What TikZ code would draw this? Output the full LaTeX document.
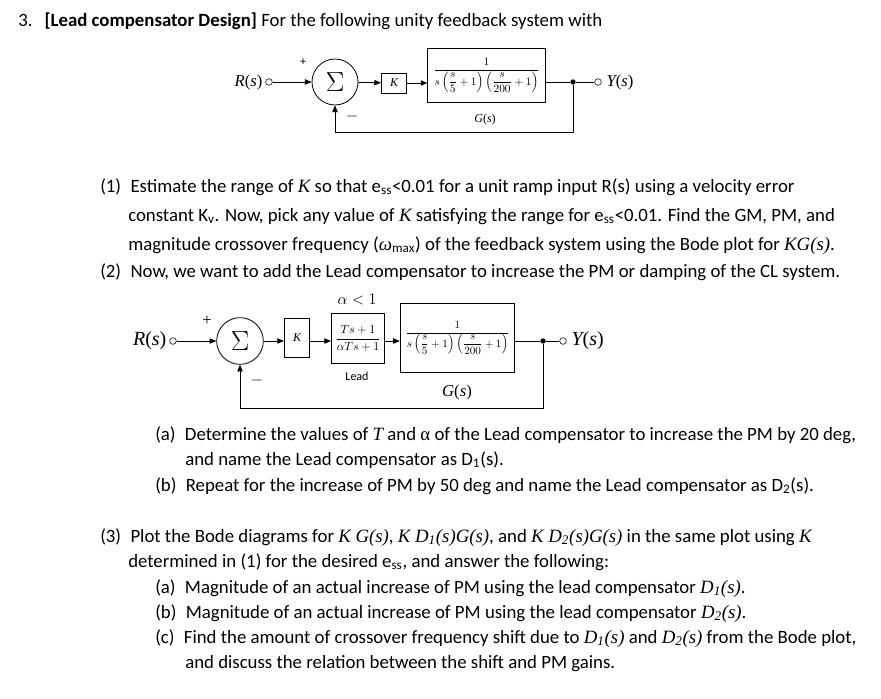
\documentclass[tikz,border=0pt]{standalone}
\usepackage{fontspec}
\usepackage{graphicx}
\setmainfont{Carlito}
\newfontfamily\tms{Liberation Serif}
\usetikzlibrary{arrows.meta}
\newcommand{\mi}[1]{{\tms\itshape #1}}
\newcommand{\ess}{e\textsubscript{ss}}
\newcommand{\gfrac}{$\displaystyle\frac{1}{s\left(\displaystyle\frac{s}{5}+1\right)\left(\displaystyle\frac{s}{200}+1\right)}$}
\begin{document}
\begin{tikzpicture}[x=0.75pt,y=-0.75pt,
  txt/.style={anchor=base west,inner sep=0pt,font=\fontsize{14.1pt}{16pt}\selectfont},
  blk/.style={draw,line width=0.6pt,inner sep=0pt},
  sumc/.style={draw,circle,line width=0.6pt,minimum size=34.5pt,inner sep=0pt,font=\huge},
  port/.style={draw,circle,minimum size=5pt,inner sep=0pt},
  dotn/.style={fill,circle,minimum size=4pt,inner sep=0pt},
  lbl/.style={font=\tms\fontsize{12.5pt}{14pt}\selectfont,inner sep=1pt},
  arr/.style={-{Triangle[length=5pt,width=4pt]},line width=0.6pt},
  ln/.style={line width=0.6pt}]
\useasboundingbox (0,0) rectangle (881,699);
% header
\node[txt] (h) at (18,27) {3.\hspace{9pt}\textbf{[Lead compensator Design]} For the following unity feedback system with};
% diagram 1
\node[lbl,anchor=east] (r1) at (264,82) {\itshape R\upshape(\itshape s\upshape)};
\node[port] (p1) at (269,82) {};
\node[sumc] (s1) at (335,82) {$\Sigma$};
\node[blk,minimum width=19pt,minimum height=15pt] (k1) at (394,83) {\tms\itshape\small K};
\node[blk,minimum width=88pt,minimum height=41pt] (g1) at (486.5,75.5) {\resizebox{80pt}{!}{\gfrac}};
\node[dotn] (d1) at (573,82) {};
\node[port] (o1) at (598,82) {};
\node[lbl,anchor=west] (y1) at (605,82) {\itshape Y\upshape(\itshape s\upshape)};
\node[lbl,font=\tms\small] (gl1) at (485,120) {\itshape G\upshape(\itshape s\upshape)};
\node[lbl,font=\small] (pl1) at (303,62) {+};
\node[lbl] (mi1) at (352,116) {$-$};
\draw[arr] (p1) -- (s1);
\draw[arr] (s1) -- (k1);
\draw[arr] (k1) -- (g1.west|-k1);
\draw[ln] (g1.east|-d1) -- (d1) -- (o1);
\draw[arr] (d1) |- (335,132) -- (s1.south);
% text (1)
\node[txt] (t1) at (100,192) {(1)\hspace{7pt}Estimate the range of \mi{K} so that \ess<0.01 for a unit ramp input R(s) using a velocity error};
\node[txt] (t2) at (128,221) {constant K\textsubscript{v}. Now, pick any value of \mi{K} satisfying the range for \ess<0.01. Find the GM, PM, and};
\node[txt] (t3) at (128,250) {magnitude crossover frequency ({\tms\itshape ω}\textsubscript{max}) of the feedback system using the Bode plot for \mi{KG(s)}.};
\node[txt] (t4) at (100,277) {(2)\hspace{7pt}Now, we want to add the Lead compensator to increase the PM or damping of the CL system.};
% diagram 2
\node[lbl,anchor=east,font=\tms\fontsize{15pt}{17pt}\selectfont] (r2) at (168,341) {\itshape R\upshape(\itshape s\upshape)};
\node[port] (p2) at (173,341) {};
\node[sumc,minimum size=35pt] (s2) at (240,341) {$\Sigma$};
\node[blk,minimum width=19pt,minimum height=29pt] (k2) at (297,338) {\tms\itshape\small K};
\node[blk,minimum width=40pt,minimum height=37pt] (l2) at (358,338.5) {\resizebox{34pt}{!}{$\displaystyle\frac{Ts+1}{\alpha Ts+1}$}};
\node[blk,minimum width=86pt,minimum height=52pt] (g2) at (457.5,338) {\resizebox{78pt}{!}{\gfrac}};
\node[dotn] (d2) at (543,341) {};
\node[port] (o2) at (563,341) {};
\node[lbl,anchor=west,font=\tms\fontsize{15pt}{17pt}\selectfont] (y2) at (570,341) {\itshape Y\upshape(\itshape s\upshape)};
\node[lbl] (al) at (357,300) {$\alpha<1$};
\node[lbl,font=\small] (ll) at (357,376) {Lead};
\node[lbl] (gl2) at (457,392) {\itshape G\upshape(\itshape s\upshape)};
\node[lbl] (pl2) at (207,321) {+};
\node[lbl] (mi2) at (257,380) {$-$};
\draw[arr] (p2) -- (s2);
\draw[arr] (s2) -- (k2.west|-s2);
\draw[arr] (k2.east|-s2) -- (l2.west|-s2);
\draw[arr] (l2.east|-s2) -- (g2.west|-s2);
\draw[ln] (g2.east|-d2) -- (d2) -- (o2);
\draw[arr] (d2) |- (240,408) -- (s2.south);
% text (2)
\node[txt] (a1) at (155,440) {(a)\hspace{7pt}Determine the values of \mi{T} and {\tms α} of the Lead compensator to increase the PM by 20 deg,};
\node[txt] (a2) at (185,465) {and name the Lead compensator as D\textsubscript{1}(s).};
\node[txt] (b1) at (155,491) {(b)\hspace{7pt}Repeat for the increase of PM by 50 deg and name the Lead compensator as D\textsubscript{2}(s).};
% text (3)
\node[txt] (c1) at (100,542) {(3)\hspace{7pt}Plot the Bode diagrams for \mi{K G(s)}, \mi{K D\textsubscript{1}(s)G(s)}, and \mi{K D\textsubscript{2}(s)G(s)} in the same plot using \mi{K}};
\node[txt] (c2) at (128,567) {determined in (1) for the desired e\textsubscript{ss}, and answer the following:};
\node[txt] (c3) at (155,593) {(a)\hspace{7pt}Magnitude of an actual increase of PM using the lead compensator \mi{D\textsubscript{1}(s)}.};
\node[txt] (c4) at (155,618) {(b)\hspace{7pt}Magnitude of an actual increase of PM using the lead compensator \mi{D\textsubscript{2}(s)}.};
\node[txt] (c5) at (155,643) {(c)\hspace{7pt}Find the amount of crossover frequency shift due to \mi{D\textsubscript{1}(s)} and \mi{D\textsubscript{2}(s)} from the Bode plot,};
\node[txt] (c6) at (185,668) {and discuss the relation between the shift and PM gains.};
\end{tikzpicture}
\end{document}
